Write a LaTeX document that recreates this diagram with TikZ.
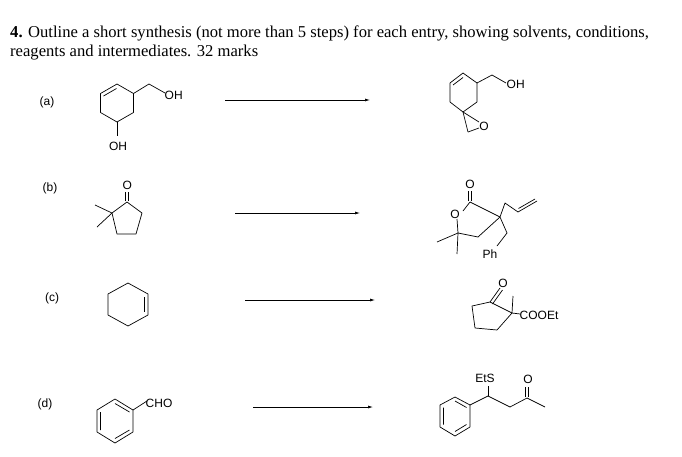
\documentclass[tikz,border=0pt]{standalone}
\usepackage{fontspec}
\setmainfont{Liberation Serif}
\newfontfamily\chemf{Liberation Sans}
\usetikzlibrary{arrows.meta}
\begin{document}
\begin{tikzpicture}[x=1pt,y=-1pt,
  bond/.style={line width=0.7pt,line join=round},
  lbl/.style={font=\chemf\fontsize{12}{12}\selectfont,inner sep=0.5pt},
  rxn/.style={line width=0.7pt,-{Latex[length=5pt,width=3pt]}},
  title/.style={font=\fontsize{16.6}{18}\selectfont,anchor=west,inner sep=0}]
\fill[white] (0,0) rectangle (682,456);
\useasboundingbox (0,0) rectangle (682,456);
\node[title] (t1) at (10,33) {\textbf{4.} Outline a short synthesis (not more than 5 steps) for each entry, showing solvents, conditions,};
\node[title] (t2) at (10,53) {reagents and intermediates. 32 marks};
% entry labels
\node[lbl] (la) at (47,102) {(a)};
\node[lbl] (lb) at (50,188) {(b)};
\node[lbl] (lc) at (52,298) {(c)};
\node[lbl] (ld) at (45,404) {(d)};
% arrows
\coordinate (a1) at (225,100); \coordinate (a2) at (370,100);
\coordinate (b1) at (235,213); \coordinate (b2) at (360,213);
\coordinate (c1) at (245,300); \coordinate (c2) at (375,300);
\coordinate (d1) at (253,407); \coordinate (d2) at (373,407);
\draw[rxn] (a1)--(a2); \draw[rxn] (b1)--(b2); \draw[rxn] (c1)--(c2); \draw[rxn] (d1)--(d2);
% (a) start
\draw[bond] (117,84)--(133.5,93.5)--(133.5,112.5)--(117,122)--(100.5,112.5)--(100.5,93.5)--cycle;
\draw[bond] (103.5,96)--(116.5,88.5);
\draw[bond] (133.5,93.5)--(149,84)--(165,93);
\node[lbl,anchor=west] (oh1) at (164,95) {OH};
\draw[bond] (117,122)--(117,136);
\node[lbl] (oh2) at (118,146) {OH};
% (b) start
\draw[bond] (127,202)--(142,213)--(136,234)--(117,234)--(112,213)--cycle;
\draw[bond] (125.8,201)--(125.8,192); \draw[bond] (128.6,201)--(128.6,192);
\node[lbl] (ob) at (127.2,185) {O};
\draw[bond] (112,213)--(95,205); \draw[bond] (112,213)--(97,227);
% (c) start
\draw[bond] (128,283)--(148,294)--(148,315)--(128,326)--(108,315)--(108,294)--cycle;
\draw[bond] (144.5,297)--(144.5,312);
% (d) start
\draw[bond] (115,399)--(133,410)--(133,432)--(115,443)--(97,432)--(97,410)--cycle;
\draw[bond] (115,403.5)--(129.5,412) (129.5,430)--(115,438.5) (100.5,430)--(100.5,412);
\draw[bond] (133,410)--(147,401);
\node[lbl,anchor=west] (cho) at (145,403) {CHO};
% (a) product
\draw[bond] (463,73)--(477,83)--(477,102)--(463,112)--(450,102)--(450,83)--cycle;
\draw[bond] (453,85)--(463,77.5);
\draw[bond] (477,83)--(492,75)--(506,83);
\node[lbl,anchor=west] (oh3) at (506,84) {OH};
\draw[bond] (463,112)--(468,132);
\draw[bond] (463,112)--(479,122);
\draw[bond] (468,132)--(479,128);
\node[lbl] (oep) at (484,126) {O};
% (b) product
\draw[bond] (470,202)--(500,217)--(478,237)--(458,233)--(457,219);
\draw[bond] (463,211)--(470,202);
\node[lbl] (orb) at (455,214) {O};
\draw[bond] (468.6,201)--(468.6,191); \draw[bond] (471.4,201)--(471.4,191);
\node[lbl] (ob2) at (470,184) {O};
\draw[bond] (500,217)--(505,203)--(518,212)--(537,201);
\draw[bond] (518.5,208.5)--(535,199);
\draw[bond] (500,217)--(507,233)--(497,246);
\node[lbl] (ph) at (490,254) {Ph};
\draw[bond] (458,233)--(437,242); \draw[bond] (458,233)--(457,254);
% (c) product
\draw[bond] (490,302)--(512,313)--(497,330)--(475,328)--(472,306)--cycle;
\draw[bond] (490,302)--(500,288); \draw[bond] (492.5,304)--(502.5,290);
\node[lbl] (oc) at (503,283) {O};
\draw[bond] (512,313)--(513,296);
\draw[bond] (512,313)--(520,314);
\node[lbl,anchor=west] (cooet) at (519,315) {COOEt};
% (d) product
\draw[bond] (455,397)--(470,405)--(470,427)--(455,436)--(440,427)--(440,405)--cycle;
\draw[bond] (455,401)--(466.5,407.5) (466.5,424.5)--(455,431.5) (443.5,424.5)--(443.5,407.5);
\draw[bond] (470,405)--(488,396)--(510,407)--(527,398)--(545,407);
\draw[bond] (488,396)--(488,386);
\node[lbl] (ets) at (485,378) {EtS};
\draw[bond] (525.6,397)--(525.6,387); \draw[bond] (528.4,397)--(528.4,387);
\node[lbl] (od) at (528,379) {O};
\end{tikzpicture}
\end{document}
